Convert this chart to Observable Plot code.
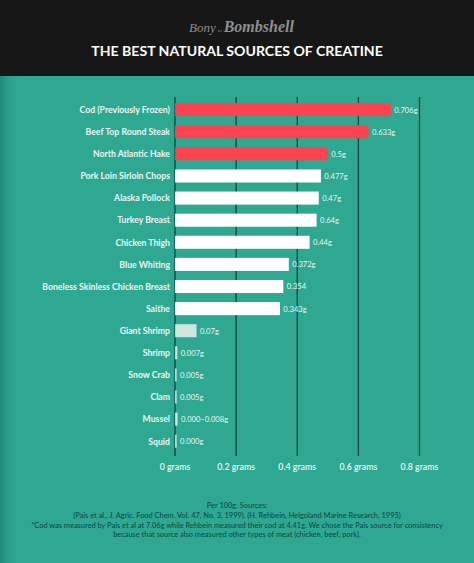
<!DOCTYPE html>
<html><head><meta charset="utf-8">
<script src="https://cdn.jsdelivr.net/npm/d3@7"></script>
<script src="https://cdn.jsdelivr.net/npm/@observablehq/plot@0.6"></script>
<style>
html,body{margin:0;padding:0;width:474px;height:563px;overflow:hidden;}
body{background:linear-gradient(90deg,#1f8a76 0,#2a9f8a 8px,#2fa892 18px,#2fa892 100%);font-family:Lato,sans-serif;position:relative;}
#head{height:76px;background:#171717;text-align:center;position:relative;}
#logo{position:absolute;left:9px;right:0;top:18px;font:italic 400 13px/18px "Liberation Serif",serif;color:#8f8f8f;}
#logo .to{font-size:5px;margin:0 2px;}
#logo b{font-size:16px;font-weight:700;}
#title{position:absolute;left:0;right:0;top:41px;font:700 14.1px/20px Lato,sans-serif;color:#fff;}
#chart{position:absolute;left:0;top:76px;}
#chart svg{display:block;background:transparent;}
#cap{position:absolute;left:0;right:0;top:501px;text-align:center;color:#0c4d49;font:500 7.42px/9.8px Lato,sans-serif;}
</style></head><body>
<div id="head"><div id="logo">Bony<span class="to">to</span><b>Bombshell</b></div><div id="title">THE BEST NATURAL SOURCES OF CREATINE</div></div>
<div id="chart"></div>
<div id="cap">Per 100g. Sources:<br>(Pais et al., J. Agric. Food Chem. Vol. 47, No. 3, 1999), (H. Rehbein, Helgoland Marine Research, 1995)<br>*Cod was measured by Pais et al at 7.06g while Rehbein measured their cod at 4.41g. We chose the Pais source for consistency<br>because that source also measured other types of meat (chicken, beef, pork).</div>
<script>
const foods = ["Cod (Previously Frozen)","Beef Top Round Steak","North Atlantic Hake","Pork Loin Sirloin Chops","Alaska Pollock","Turkey Breast","Chicken Thigh","Blue Whiting","Boneless Skinless Chicken Breast","Saithe","Giant Shrimp","Shrimp","Snow Crab","Clam","Mussel","Squid"];
const grams = [0.706,0.633,0.5,0.477,0.47,0.463,0.44,0.372,0.354,0.343,0.07,0.007,0.005,0.005,0.008,0.005];
const valueLabels = ["0.706g","0.633g","0.5g","0.477g","0.47g","0.64g","0.44g","0.372g","0.354","0.343g","0.07g","0.007g","0.005g","0.005g","0.000–0.008g","0.000g"];
const tiers = ["top","top","top","mid","mid","mid","mid","mid","mid","mid","low","low","low","low","low","low"];
const xTicks = [0,0.2,0.4,0.6,0.8];
const rows = foods.map((food,i)=>({food,grams:grams[i],label:valueLabels[i],tier:tiers[i]}));
const ink="#0b4643", pale="#e9f6f2";
const plot = Plot.plot({
  width:474,height:404,
  marginLeft:174.5,marginRight:55,marginTop:21,marginBottom:24,
  style:{background:"transparent",fontFamily:"Lato,sans-serif"},
  x:{domain:[0,0.8],axis:null},
  y:{domain:foods,range:[22.6,376.3],paddingInner:0.41,paddingOuter:0.205,round:false,axis:null},
  color:{domain:["top","mid","low"],range:["#fb4450","#ffffff","#cfe5e0"]},
  marks:[
    Plot.ruleX(xTicks,{stroke:ink,strokeWidth:1.3}),
    Plot.barX(rows,{x1:0.002,x2:d=>d.grams+0.002,y:"food",fill:"tier"}),
    Plot.axisY(foods,{anchor:"left",tickSize:0,tickPadding:5,fontSize:8.7,fontWeight:700,color:pale,label:null}),
    Plot.axisX(xTicks,{anchor:"bottom",tickSize:0,tickPadding:7,fontSize:8.8,fontWeight:600,color:pale,label:null,tickFormat:d=>`${d} grams`}),
    Plot.text(rows,{x:"grams",y:"food",text:"label",textAnchor:"start",dx:3.5,fontSize:7.6,fill:pale})
  ]
});
document.getElementById("chart").append(plot);
</script>
</body></html>
